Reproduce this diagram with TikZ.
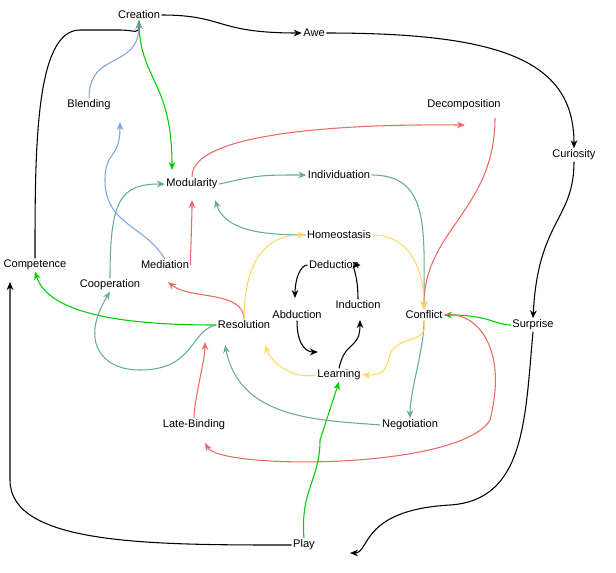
\documentclass[tikz,border=0pt]{standalone}
\usepackage{fontspec}
\setmainfont{Liberation Sans}
\usetikzlibrary{arrows.meta}
\definecolor{cg}{HTML}{00CC00}
\definecolor{cb}{HTML}{7EA6E0}
\definecolor{cr}{HTML}{EA6B66}
\definecolor{ct}{HTML}{67AB9F}
\definecolor{cy}{HTML}{FFD966}
\begin{document}
\begin{tikzpicture}[x=0.75pt,y=-0.75pt,
  lab/.style={inner sep=1pt,font=\fontsize{8.3}{10}\selectfont},
  ea/.style={-{Stealth[length=6pt,width=5pt]},line width=0.8pt},
  ek/.style={ea,black}, eg/.style={ea,cg}, eb/.style={ea,cb}, er/.style={ea,cr}, et/.style={ea,ct}, ey/.style={ea,cy}]
\useasboundingbox (0,0) rectangle (616,572);
\node[lab] (cre) at (139,15) {Creation};
\node[lab] (awe) at (314,33) {Awe};
\node[lab] (ble) at (89,105) {Blending};
\node[lab] (dec) at (464,105) {Decomposition};
\node[lab] (cur) at (574,155) {Curiosity};
\node[lab] (mod) at (192,184) {Modularity};
\node[lab] (ind) at (339,175) {Individuation};
\node[lab] (hom) at (339,235) {Homeostasis};
\node[lab] (ded) at (334,265) {Deduction};
\node[lab] (com) at (35,265) {Competence};
\node[lab] (coo) at (110,285) {Cooperation};
\node[lab] (med) at (165,265) {Mediation};
\node[lab] (abd) at (297,315) {Abduction};
\node[lab] (inu) at (358,305) {Induction};
\node[lab] (con) at (424,315) {Conflict};
\node[lab] (sur) at (533,325) {Surprise};
\node[lab] (res) at (244,325) {Resolution};
\node[lab] (lea) at (339,375) {Learning};
\node[lab] (lat) at (194,425) {Late-Binding};
\node[lab] (neg) at (410,425) {Negotiation};
\node[lab] (pla) at (304,545) {Play};
\coordinate (p1) at (350,553);
\coordinate (p2) at (10,282);
\coordinate (p3) at (120,122);
\coordinate (p4) at (495,118);
% black
\draw[ek] (cre.east) .. controls (225,15) and (215,33) .. (awe.west);
\draw[ek] (awe.east) .. controls (500,33) and (574,60) .. (cur.north);
\draw[ek] (cur.south) .. controls (574,220) and (538,220) .. (sur.north);
\draw[ek] (sur.south) .. controls (525,420) and (525,500) .. (450,505) .. controls (360,510) and (370,553) .. (p1);
\draw[ek] (pla.west) .. controls (150,545) and (10,545) .. (10,480) -- (p2);
\draw[ek] (com.north) .. controls (35,150) and (35,30) .. (80,30) -- (120,30) .. controls (135,30) and (139,35) .. (cre.south);
% blue
\draw[eb] (ble.north) .. controls (89,50) and (139,70) .. (cre.south);
\draw[eb] (med.north) .. controls (145,225) and (105,225) .. (105,180) .. controls (105,150) and (120,160) .. (p3);
% green
\draw[eg] (cre.south) .. controls (139,80) and (172,80) .. (172,170);
\draw[eg] (res.west) .. controls (150,325) and (50,320) .. (com.south);
\draw[eg] (sur.west) .. controls (495,325) and (490,315) .. (con.east);
\draw[eg] (pla.north) .. controls (300,490) and (320,480) .. (320,440) -- (lea.south);
% teal
\draw[et] (mod.east) .. controls (260,175) .. (ind.west);
\draw[et] (ind.east) .. controls (430,175) and (424,230) .. (con.north);
\draw[et] (hom.west) .. controls (260,235) and (225,230) .. (215,200);
\draw[et] (coo.north) .. controls (110,200) and (120,184) .. (mod.west);
\draw[et] (res.west) .. controls (190,330) and (195,370) .. (140,370) .. controls (100,370) and (80,340) .. (coo.south);
\draw[et] (con.south) .. controls (424,350) and (410,390) .. (neg.north);
\draw[et] (neg.west) .. controls (320,420) and (240,420) .. (225,345);
% red
\draw[er] (mod.north) .. controls (190,120) and (440,125) .. (465,125);
\draw[er] (p4) .. controls (495,210) and (424,230) .. (con.north);
\draw[er] (med.east) .. controls (190,265) and (192,220) .. (192,200);
\draw[er] (res.north) .. controls (244,290) and (190,300) .. (168,282);
\draw[er] (lat.north) .. controls (194,400) and (205,360) .. (205,342);
\draw[er] (con.east) .. controls (470,310) and (510,340) .. (490,420) .. controls (460,470) and (220,470) .. (205,443);
% yellow
\draw[ey] (res.north) .. controls (244,270) and (260,235) .. (hom.west);
\draw[ey] (hom.east) .. controls (410,235) and (424,270) .. (con.north);
\draw[ey] (con.south) .. controls (430,345) and (395,335) .. (390,355) .. controls (385,370) and (385,375) .. (lea.east);
\draw[ey] (lea.west) .. controls (290,380) and (270,360) .. (265,345);
% black cycle
\draw[ek] (ded.west) .. controls (300,265) and (295,280) .. (295,298);
\draw[ek] (abd.south) .. controls (297,350) and (310,352) .. (318,352);
\draw[ek] (lea.north) .. controls (345,340) and (360,350) .. (360,320);
\draw[ek] (inu.north) .. controls (358,270) and (350,265) .. (ded.east);
\end{tikzpicture}
\end{document}
